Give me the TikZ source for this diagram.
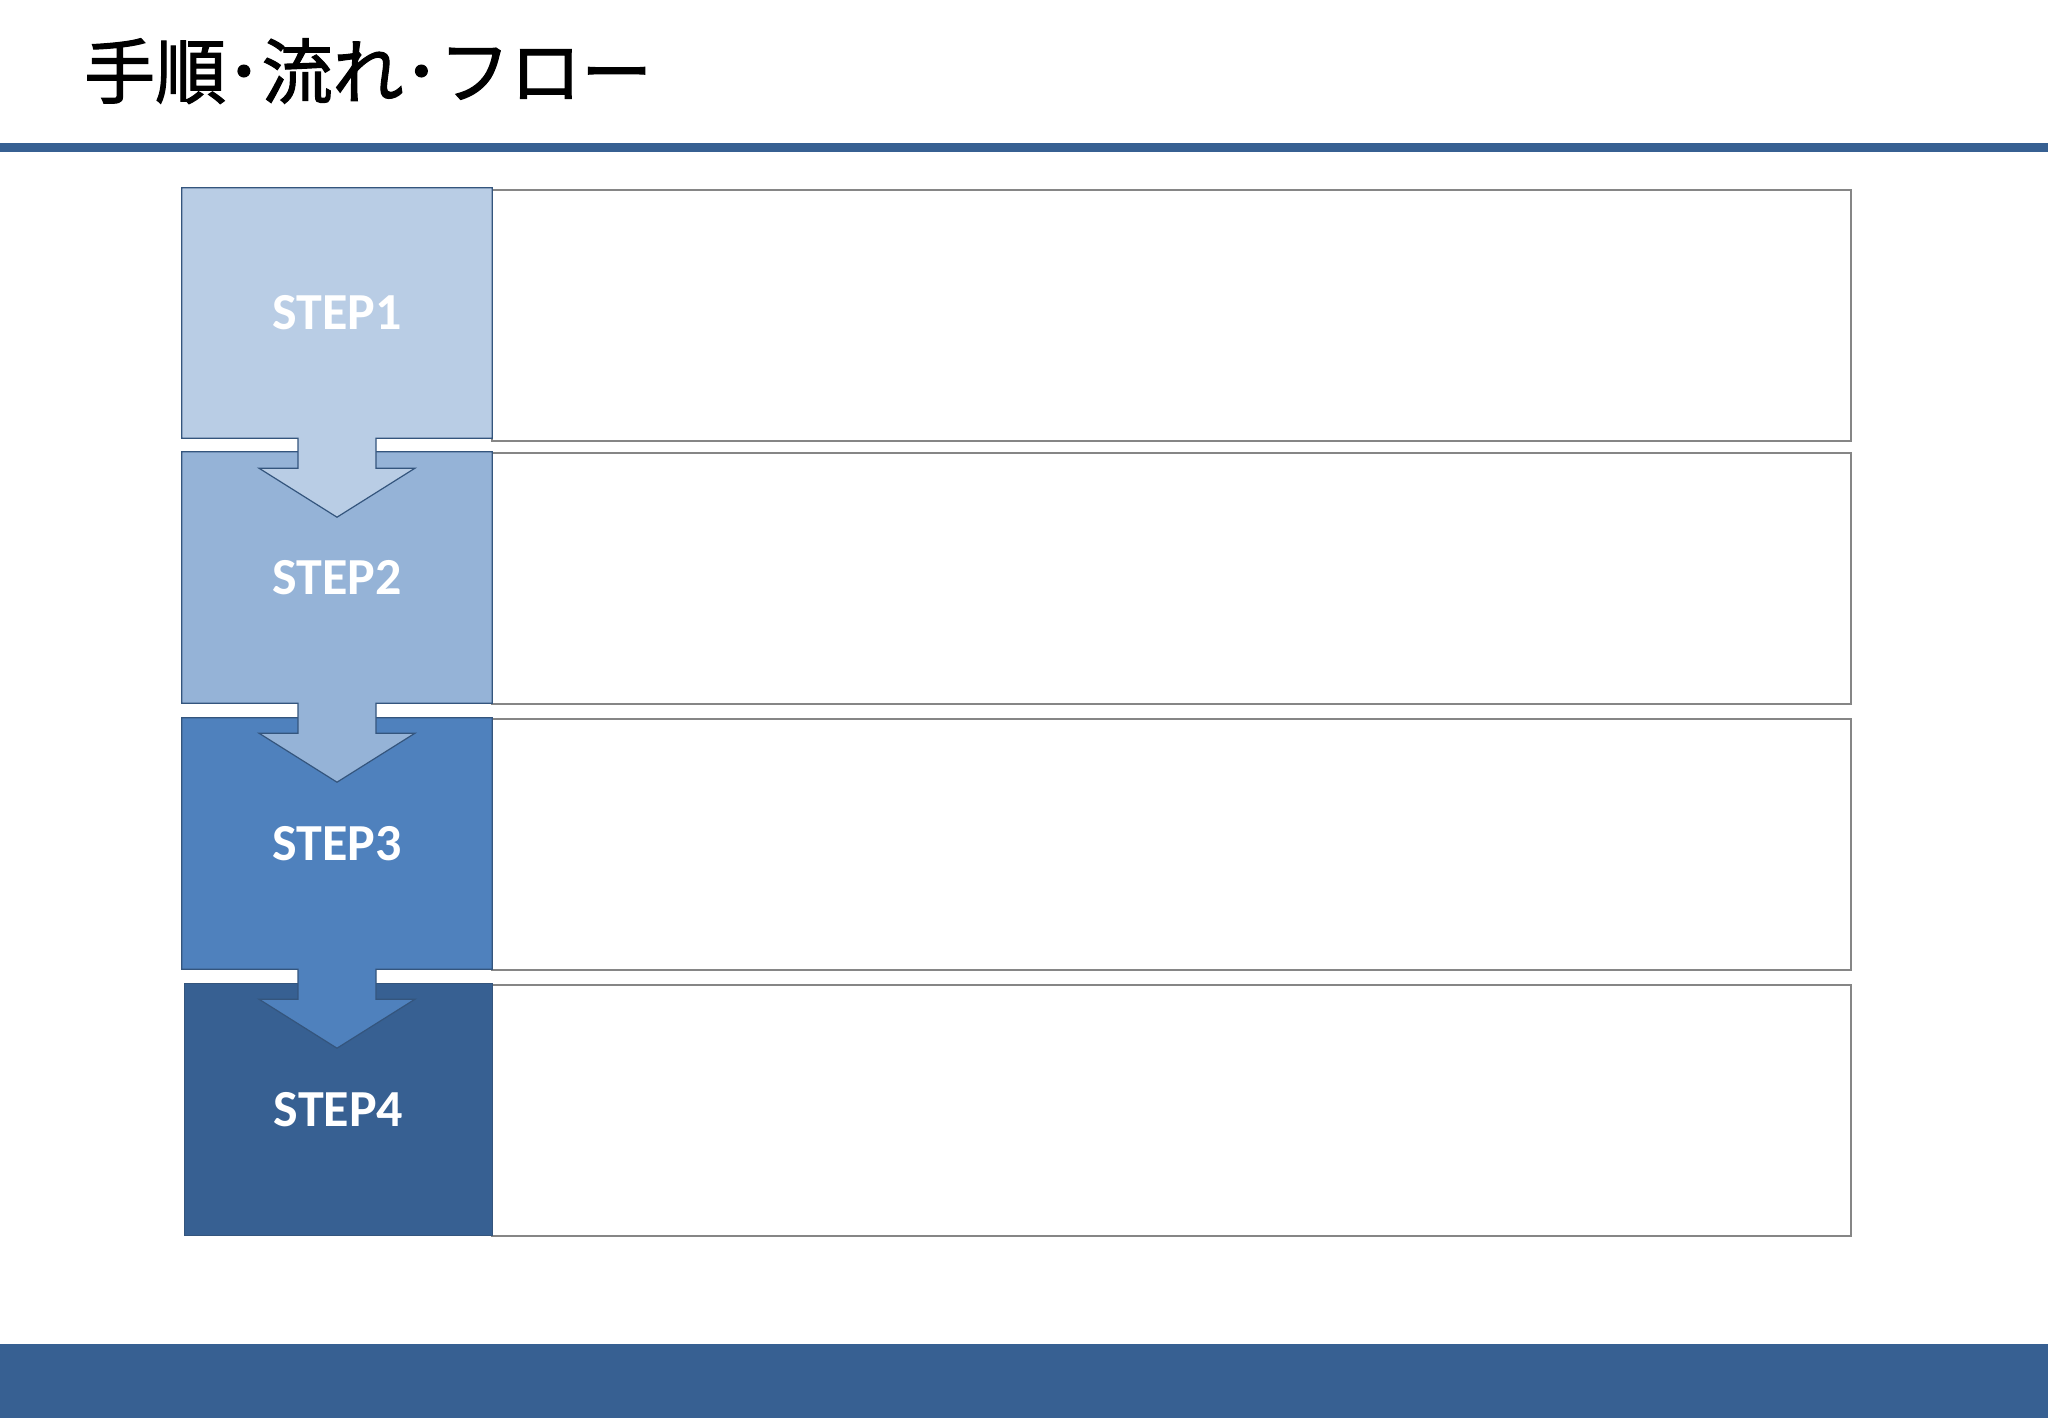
\documentclass[tikz,border=0pt]{standalone}
\usepackage{fontspec}
\setmainfont{Carlito}
\newfontfamily\jpfont{Noto Sans CJK JP}[FakeBold=1.6]
\usetikzlibrary{calc}
\definecolor{barblue}{HTML}{376092}
\definecolor{cOne}{HTML}{B9CDE5}
\definecolor{cTwo}{HTML}{95B3D7}
\definecolor{cThree}{HTML}{4F81BD}
\definecolor{cFour}{HTML}{376092}
\definecolor{edgeblue}{HTML}{34557D}
\definecolor{boxgray}{HTML}{868686}
\newcommand{\stepcallout}[2]{%
  \filldraw[fill=#2, draw=edgeblue, line width=1.2pt, line join=miter]
    (#1.north west) -- (#1.north east) -- (#1.south east)
    -- ($(#1.south)+(39,0)$) -- ($(#1.south)+(39,30)$) -- ($(#1.south)+(78,30)$)
    -- ($(#1.south)+(0,79)$) -- ($(#1.south)+(-78,30)$) -- ($(#1.south)+(-39,30)$)
    -- ($(#1.south)+(-39,0)$) -- (#1.south west) -- cycle;}
\begin{document}
\begin{tikzpicture}[x=1pt,y=-1pt,
  frame/.style={draw=none, inner sep=0pt, minimum width=310pt, minimum height=251pt},
  contentbox/.style={draw=boxgray, line width=1.5pt, fill=white, inner sep=0pt,
    minimum width=1359pt, minimum height=251pt},
  steplabel/.style={text=white, inner sep=0pt,
    font=\fontsize{52}{60}\selectfont\bfseries}]
\useasboundingbox (0,0) rectangle (2048,1418);
\fill[white] (0,0) rectangle (2048,1418);
% bars
\fill[barblue] (0,143) rectangle (2048,152);
\fill[barblue] (0,1344) rectangle (2048,1418);
% title
\node[anchor=base west, inner sep=0pt, font=\jpfont\fontsize{71}{80}\selectfont] (title) at (84,98) {手順･流れ･フロー};
% content boxes
\node[contentbox] (b1) at (1171.5,315.5) {};
\node[contentbox] (b2) at (1171.5,578.5) {};
\node[contentbox] (b3) at (1171.5,844.5) {};
\node[contentbox] (b4) at (1171.5,1110.5) {};
% step frames
\node[frame, minimum height=250pt] (s1) at (337,313) {};
\node[frame] (s2) at (337,577.5) {};
\node[frame] (s3) at (337,843.5) {};
\node[frame, minimum width=307pt] (s4) at (338.5,1109.5) {};
% shapes, bottom first
\filldraw[fill=cFour, draw=edgeblue, line width=1.2pt] (s4.north west) rectangle (s4.south east);
\stepcallout{s3}{cThree}
\stepcallout{s2}{cTwo}
\stepcallout{s1}{cOne}
% labels
\node[steplabel] (l1) at (s1) {STEP1};
\node[steplabel] (l2) at (s2) {STEP2};
\node[steplabel] (l3) at (s3) {STEP3};
\node[steplabel] (l4) at (s4) {STEP4};
\end{tikzpicture}
\end{document}
